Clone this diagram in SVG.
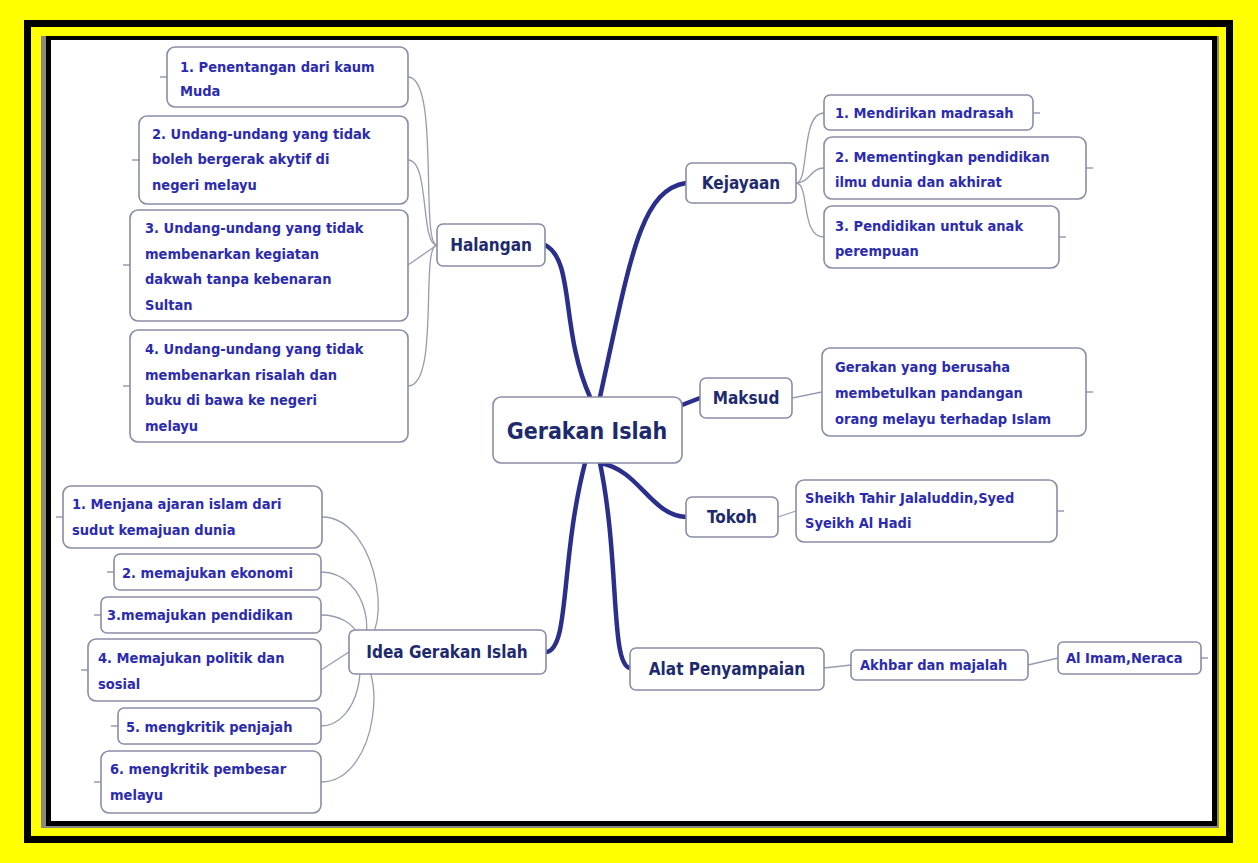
<svg xmlns="http://www.w3.org/2000/svg" width="1258" height="863" viewBox="0 0 1258 863">
<style>
.b{fill:#fff;stroke:#8c8ca6;stroke-width:1.6}
.t{font-family:"DejaVu Sans Condensed","DejaVu Sans",sans-serif;font-weight:bold;font-size:14.5px;fill:#2b2bb0}
.m{font-family:"DejaVu Sans Condensed","DejaVu Sans",sans-serif;font-weight:bold;font-size:17px;fill:#1e2a6e}
.c{font-size:23px}
.th{fill:none;stroke:#2b2f8c;stroke-width:4.5;stroke-linecap:round}
.tn{fill:none;stroke:#9a9ab0;stroke-width:1.3}
</style>
<rect width="1258" height="863" fill="#ffff00"/>
<rect x="27.5" y="23.5" width="1202" height="816" fill="none" stroke="#000" stroke-width="7"/>
<rect x="41" y="36" width="1178" height="792" fill="#888"/>
<rect x="46" y="36" width="1171" height="790" fill="#000"/>
<rect x="51" y="40" width="1161" height="781" fill="#fff"/>
<g id="connectors">
<path class="th" d="M590 397 C560 330 575 260 545 245"/>
<path class="th" d="M600 397 C630 260 640 190 686 183"/>
<path class="th" d="M682 405 L700 398"/>
<path class="th" d="M600 463 C640 470 650 515 686 517"/>
<path class="th" d="M585 463 C560 560 570 650 546 652"/>
<path class="th" d="M600 463 C620 560 610 665 630 668"/>
<path class="tn" d="M437 245 C420 245 440 77 408 77"/>
<path class="tn" d="M437 245 C420 245 430 160 408 160"/>
<path class="tn" d="M437 245 L408 265"/>
<path class="tn" d="M437 245 C420 245 440 386 408 386"/>
<path class="tn" d="M796 183 C810 183 800 113 824 113"/>
<path class="tn" d="M796 183 C810 183 810 168 824 168"/>
<path class="tn" d="M796 183 C810 183 800 237 824 237"/>
<path class="tn" d="M792 398 L822 392"/>
<path class="tn" d="M778 517 L796 511"/>
<path class="tn" d="M824 668 L851 665"/>
<path class="tn" d="M1028 665 L1058 658"/>
<path class="tn" d="M349 652 C400 652 380 517 322 517"/>
<path class="tn" d="M349 652 C380 652 370 572 321 572"/>
<path class="tn" d="M349 652 C370 652 360 615 321 615"/>
<path class="tn" d="M349 652 L321 670"/>
<path class="tn" d="M349 652 C370 652 360 726 321 726"/>
<path class="tn" d="M349 652 C390 652 380 782 321 782"/>
<path class="tn" d="M160 77h7M132 160h7M123 265h7M123 386h7M1033 113h7M1086 168h7M1059 237h7M1086 392h7M1057 511h7M1201 658h7M56 517h7M107 572h7M94 615h7M81 670h7M111 726h7M94 782h7"/>
</g>
<g id="center"><rect class="b" x="493" y="397" width="189" height="66" rx="8"/><text class="m c" x="587" y="439" text-anchor="middle">Gerakan Islah</text></g>
<g id="halangan"><rect class="b" x="437" y="224" width="108" height="42" rx="6"/><text class="m" x="491" y="251" text-anchor="middle">Halangan</text></g>
<g id="h1"><rect class="b" x="167" y="47" width="241" height="60" rx="8"/><text class="t" x="180" y="72">1. Penentangan dari kaum</text><text class="t" x="180" y="96">Muda</text></g>
<g id="h2"><rect class="b" x="139" y="116" width="269" height="88" rx="8"/><text class="t" x="152" y="139">2. Undang-undang yang tidak</text><text class="t" x="152" y="164">boleh bergerak akytif di</text><text class="t" x="152" y="190">negeri melayu</text></g>
<g id="h3"><rect class="b" x="130" y="210" width="278" height="111" rx="8"/><text class="t" x="145" y="233">3. Undang-undang yang tidak</text><text class="t" x="145" y="259">membenarkan kegiatan</text><text class="t" x="145" y="284">dakwah tanpa kebenaran</text><text class="t" x="145" y="310">Sultan</text></g>
<g id="h4"><rect class="b" x="130" y="330" width="278" height="112" rx="8"/><text class="t" x="145" y="354">4. Undang-undang yang tidak</text><text class="t" x="145" y="380">membenarkan risalah dan</text><text class="t" x="145" y="405">buku di bawa ke negeri</text><text class="t" x="145" y="431">melayu</text></g>
<g id="kejayaan"><rect class="b" x="686" y="163" width="110" height="40" rx="6"/><text class="m" x="741" y="189" text-anchor="middle">Kejayaan</text></g>
<g id="k1"><rect class="b" x="824" y="95" width="209" height="35" rx="6"/><text class="t" x="835" y="118">1. Mendirikan madrasah</text></g>
<g id="k2"><rect class="b" x="824" y="137" width="262" height="62" rx="8"/><text class="t" x="835" y="162">2. Mementingkan pendidikan</text><text class="t" x="835" y="187">ilmu dunia dan akhirat</text></g>
<g id="k3"><rect class="b" x="824" y="206" width="235" height="62" rx="8"/><text class="t" x="835" y="231">3. Pendidikan untuk anak</text><text class="t" x="835" y="256">perempuan</text></g>
<g id="maksud"><rect class="b" x="700" y="378" width="92" height="40" rx="6"/><text class="m" x="746" y="404" text-anchor="middle">Maksud</text></g>
<g id="m1"><rect class="b" x="822" y="348" width="264" height="88" rx="8"/><text class="t" x="835" y="372">Gerakan yang berusaha</text><text class="t" x="835" y="398">membetulkan pandangan</text><text class="t" x="835" y="424">orang melayu terhadap Islam</text></g>
<g id="tokoh"><rect class="b" x="686" y="497" width="92" height="40" rx="6"/><text class="m" x="732" y="523" text-anchor="middle">Tokoh</text></g>
<g id="t1"><rect class="b" x="796" y="480" width="261" height="62" rx="8"/><text class="t" x="805" y="503">Sheikh Tahir Jalaluddin,Syed</text><text class="t" x="805" y="528">Syeikh Al Hadi</text></g>
<g id="alat"><rect class="b" x="630" y="648" width="194" height="42" rx="6"/><text class="m" x="727" y="675" text-anchor="middle">Alat Penyampaian</text></g>
<g id="a1"><rect class="b" x="851" y="650" width="177" height="30" rx="5"/><text class="t" x="860" y="670">Akhbar dan majalah</text></g>
<g id="a2"><rect class="b" x="1058" y="642" width="143" height="32" rx="5"/><text class="t" x="1066" y="663">Al Imam,Neraca</text></g>
<g id="idea"><rect class="b" x="349" y="630" width="197" height="44" rx="6"/><text class="m" x="447" y="658" text-anchor="middle">Idea Gerakan Islah</text></g>
<g id="i1"><rect class="b" x="63" y="486" width="259" height="62" rx="8"/><text class="t" x="72" y="509">1. Menjana ajaran islam dari</text><text class="t" x="72" y="535">sudut kemajuan dunia</text></g>
<g id="i2"><rect class="b" x="114" y="554" width="207" height="36" rx="6"/><text class="t" x="122" y="578">2. memajukan ekonomi</text></g>
<g id="i3"><rect class="b" x="101" y="597" width="220" height="36" rx="6"/><text class="t" x="107" y="620">3.memajukan pendidikan</text></g>
<g id="i4"><rect class="b" x="88" y="639" width="233" height="62" rx="8"/><text class="t" x="98" y="663">4. Memajukan politik dan</text><text class="t" x="98" y="689">sosial</text></g>
<g id="i5"><rect class="b" x="118" y="708" width="203" height="36" rx="6"/><text class="t" x="126" y="732">5. mengkritik penjajah</text></g>
<g id="i6"><rect class="b" x="101" y="751" width="220" height="62" rx="8"/><text class="t" x="110" y="774">6. mengkritik pembesar</text><text class="t" x="110" y="800">melayu</text></g>
</svg>
